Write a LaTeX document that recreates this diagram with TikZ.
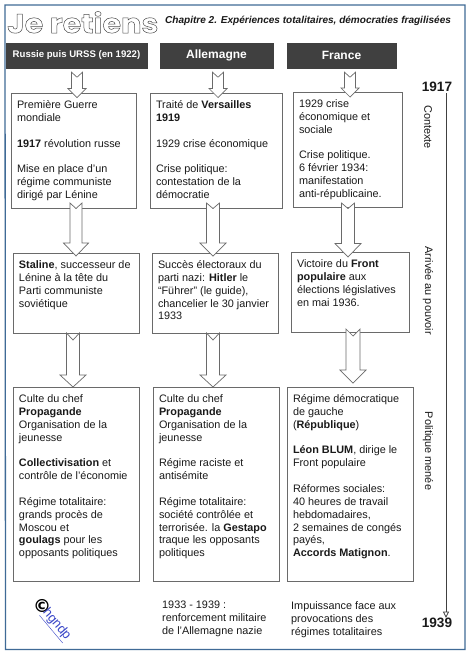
\documentclass[tikz,border=0pt]{standalone}
\usepackage{fontspec}
\setmainfont{Liberation Sans}
\newfontfamily\titlefont[FakeStretch=1.12]{Poppins}
\newfontfamily\symfont{DejaVu Sans}
\usetikzlibrary{calc}
\definecolor{hdr}{HTML}{404040}
\definecolor{frame}{HTML}{3F6A96}
\definecolor{edge}{HTML}{6A6A6A}
\definecolor{ink}{HTML}{1A1A1A}
\definecolor{linkblue}{HTML}{3A46C8}
\tikzset{
  x=1pt,y=-1pt,
  hdrbox/.style={fill=hdr,draw=hdr,text=white,font=\bfseries,inner sep=0pt},
  txtbox/.style={draw=edge,line width=.8pt,fill=white,text=ink,anchor=north west,inner xsep=6pt,inner ysep=6.5pt,outer sep=0pt,font=\fontsize{10.85}{12.85}\selectfont},
  plain/.style={anchor=north west,align=left,inner sep=0pt,text=ink,font=\fontsize{10.85}{13}\selectfont},
  arrowshape/.style={draw=edge,line width=.7pt,fill=white},
  side/.style={rotate=-90,text=ink,inner sep=0pt,font=\fontsize{10.9}{13}\selectfont},
  yearlab/.style={text=ink,inner sep=0pt,font=\fontsize{13.6}{15}\selectfont\bfseries},
}
% name, x1, y1, x2, y2, text
\newcommand{\boxnode}[6]{%
  \pgfmathsetlengthmacro{\bw}{#4pt-#2pt-12pt}%
  \pgfmathsetlengthmacro{\bwb}{#4pt-#2pt-4pt}%
  \pgfmathsetlengthmacro{\bh}{#5pt-#3pt-13pt}%
  \node[txtbox] (#1) at (#2,#3) {\begin{minipage}[t][\bh][t]{\bwb}\raggedright\strut#6\end{minipage}\hspace*{\dimexpr\bw-\bwb\relax}};}
% from, to, x, top offset, tip offset, shaft half, head half, head length, notch
\newcommand{\blockarrow}[9]{%
  \draw[arrowshape] let \p1=(#1.south), \p2=(#2.north) in
    ({#3pt-#6pt},{\y1+#4pt}) -- ({#3pt-#6pt},{\y2+#5pt+#8pt}) -- ({#3pt-#7pt},{\y2+#5pt+#8pt})
    -- ({#3pt},{\y2+#5pt}) -- ({#3pt+#7pt},{\y2+#5pt+#8pt}) -- ({#3pt+#6pt},{\y2+#5pt+#8pt})
    -- ({#3pt+#6pt},{\y1+#4pt}) -- ({#3pt},{\y1+#4pt-#9pt}) -- cycle;}
\begin{document}
\begin{tikzpicture}
\useasboundingbox (0,0) rectangle (467,657);
\fill[white] (0,0) rectangle (467,657);
\draw[frame,line width=1.3pt] (5,5) -- (465,5) -- (465,649.5) -- (5.5,649.5) -- cycle;
% title
\node[inner sep=0pt,anchor=base west,font=\fontsize{27}{27}\selectfont\titlefont\bfseries] (title) at (7,33)
  {\special{pdf:code 1 Tr 0.5 w 0.3 G}Je retiens\special{pdf:code 0 Tr 0 G}};
\node[inner sep=0pt,anchor=base west,text=ink,font=\fontsize{10.05}{12}\selectfont\bfseries\itshape] (chap) at (165,23)
  {Chapitre 2. Expériences totalitaires, démocraties fragilisées};
% headers
\node[hdrbox,minimum width=141pt,minimum height=25pt,font=\fontsize{9.6}{11}\selectfont\bfseries] (h1) at (76.5,55.5) {Russie puis URSS (en 1922)};
\node[hdrbox,minimum width=113pt,minimum height=25pt,font=\fontsize{12}{14}\selectfont\bfseries] (h2) at (216.5,55.5) {Allemagne};
\node[hdrbox,minimum width=109pt,minimum height=25pt,font=\fontsize{12}{14}\selectfont\bfseries] (h3) at (341.5,55.5) {France};
% row 1
\boxnode{a1}{11}{93}{136}{208}{Première Guerre\\mondiale\\~\\\textbf{1917} révolution russe\\~\\Mise en place d’un\\régime communiste\\dirigé par Lénine}
\boxnode{b1}{150}{93}{282}{208}{Traité de \textbf{Versailles}\\\textbf{1919}\\~\\1929 crise économique\\~\\Crise politique:\\contestation de la\\démocratie}
\boxnode{c1}{293}{92}{402}{207}{1929 crise\\économique et\\sociale\\~\\Crise politique.\\6 février 1934:\\manifestation\\anti-républicaine.}
% row 2
\boxnode{a2}{13}{253}{139}{333}{\textbf{Staline}, successeur de\\Lénine à la tête du\\Parti communiste\\soviétique}
\boxnode{b2}{152}{253}{278}{333}{Succès électoraux du\\parti nazi: \textbf{Hitler} le\\“Führer” (le guide),\\chancelier le 30 janvier\\1933}
\boxnode{c2}{291}{252}{409}{332}{Victoire du \textbf{Front}\\\textbf{populaire} aux\\élections législatives\\en mai 1936.}
% row 3
\boxnode{a3}{13}{387}{139}{581}{Culte du chef\\\textbf{Propagande}\\Organisation de la\\jeunesse\\~\\\textbf{Collectivisation} et\\contrôle de l’économie\\~\\Régime totalitaire:\\grands procès de\\Moscou et\\\textbf{goulags} pour les\\opposants politiques}
\boxnode{b3}{153}{387}{279}{581}{Culte du chef\\\textbf{Propagande}\\Organisation de la\\jeunesse\\~\\Régime raciste et\\antisémite\\~\\Régime totalitaire:\\société contrôlée et\\terrorisée. la \textbf{Gestapo}\\traque les opposants\\politiques}
\boxnode{c3}{287}{387}{413}{581}{Régime démocratique\\de gauche\\(\textbf{République})\\~\\\textbf{Léon BLUM}, dirige le\\Front populaire\\~\\Réformes sociales:\\40 heures de travail\\hebdomadaires,\\2 semaines de congés\\payés,\\\textbf{Accords Matignon}.}
% arrows
\blockarrow{h1}{a1}{77}{-4}{-4.5}{5.5}{9}{9}{5}
\blockarrow{h2}{b1}{218}{-4}{-4.5}{5.5}{9}{9}{5}
\blockarrow{h3}{c1}{350}{-4}{-5}{5.5}{9}{9}{5}
\blockarrow{a1}{a2}{76}{5}{-3}{6}{12.5}{13}{5.5}
\blockarrow{b1}{b2}{213}{5}{-3}{6.5}{13}{13}{5.5}
\blockarrow{c1}{c2}{348}{4}{-5}{6.5}{13}{13.5}{5.5}
\blockarrow{a2}{a3}{73}{0}{0}{6.5}{13}{12}{7}
\blockarrow{b2}{b3}{213}{0}{0}{6.5}{13}{12}{7}
\blockarrow{c2}{c3}{353}{3}{4}{7}{13}{13}{7}
% timeline
\node[yearlab] (y1) at (437,87) {1917};
\node[yearlab] (y2) at (437,623) {1939};
\coordinate (ystart) at (446,93);
\coordinate (yend) at (446,612);
\coordinate (tipend) at (446,617);
\draw[draw=hdr,line width=.9pt] (ystart) -- (yend);
\draw[draw=hdr,line width=.7pt,fill=white] (443.5,612) -- (448.5,612) -- (tipend) -- cycle;
\node[side] (ctx) at (428,127) {Contexte};
\node[side] (arr) at (428,290.5) {Arrivée au pouvoir};
\node[side] (pol) at (428,451) {Politique menée};
% footer
\node[plain] (f1) at (162,601) {1933 - 1939 :\\renforcement militaire\\de l’Allemagne nazie};
\node[plain] (f2) at (291,601) {Impuissance face aux\\provocations des\\régimes totalitaires};
\node[inner sep=0pt,font=\fontsize{18}{18}\selectfont\symfont\bfseries] (copy) at (42,606) {©};
\node[inner sep=0pt,rotate=-50,text=linkblue,font=\fontsize{13}{13}\selectfont] (auth) at (56,625) {\underline{hgndp}};
\end{tikzpicture}
\end{document}
